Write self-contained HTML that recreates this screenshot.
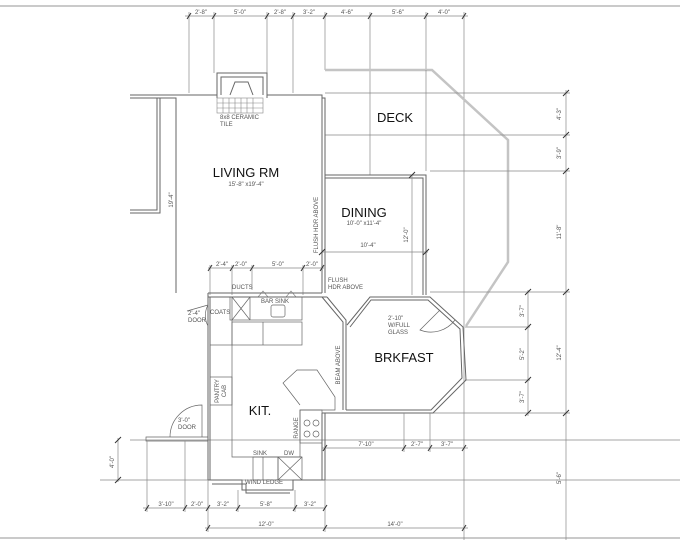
<!DOCTYPE html>
<html><head><meta charset="utf-8"><style>
html,body{margin:0;padding:0;background:#fff;}
svg{display:block;font-family:"Liberation Sans",sans-serif;}
.t{font-size:6px;fill:#555;}
.r{font-size:13px;fill:#111;}
.d{stroke:#888;stroke-width:0.7;fill:none;}
.w{stroke:#666;stroke-width:1;fill:none;}
.g{stroke:#c4c4c4;stroke-width:2.5;fill:none;}
.tk{stroke:#333;stroke-width:1;}
</style></head><body>
<svg width="680" height="544" viewBox="0 0 680 544">
<rect width="680" height="544" fill="#fff"/>
<line x1="0" y1="6" x2="680" y2="6" stroke="#aaa" stroke-width="1.2"/>
<line x1="0" y1="538" x2="680" y2="538" stroke="#aaa" stroke-width="1.2"/>

<g class="d">
<line x1="185" y1="16" x2="468" y2="16"/>
<line x1="189" y1="12" x2="189" y2="93"/><line x1="214" y1="12" x2="214" y2="73"/>
<line x1="267" y1="12" x2="267" y2="73"/><line x1="293" y1="12" x2="293" y2="93"/>
<line x1="325" y1="12" x2="325" y2="70"/><line x1="370" y1="12" x2="370" y2="175"/>
<line x1="426" y1="12" x2="426" y2="70"/><line x1="464" y1="12" x2="464" y2="540"/>
</g>
<g class="tk">
<line x1="187" y1="19" x2="191" y2="13"/><line x1="212" y1="19" x2="216" y2="13"/><line x1="265" y1="19" x2="269" y2="13"/><line x1="291" y1="19" x2="295" y2="13"/><line x1="323" y1="19" x2="327" y2="13"/><line x1="368" y1="19" x2="372" y2="13"/><line x1="424" y1="19" x2="428" y2="13"/><line x1="462" y1="19" x2="466" y2="13"/>
</g>
<g class="t" text-anchor="middle">
<text x="201" y="14">2'-8"</text><text x="240" y="14">5'-0"</text><text x="280" y="14">2'-8"</text><text x="309" y="14">3'-2"</text><text x="347" y="14">4'-6"</text><text x="398" y="14">5'-6"</text><text x="444" y="14">4'-0"</text>
</g>

<path class="g" d="M325 70 L432 70 L508 140 L508 262 L466 326"/>
<g class="d">
<line x1="325" y1="93" x2="570" y2="93"/><line x1="325" y1="135" x2="570" y2="135"/><line x1="430" y1="171" x2="570" y2="171"/>
<line x1="426" y1="70" x2="426" y2="171"/>
<line x1="430" y1="292" x2="570" y2="292"/><line x1="465" y1="327" x2="530" y2="327"/><line x1="465" y1="380" x2="530" y2="380"/>
<line x1="322" y1="413" x2="570" y2="413"/>
<line x1="130" y1="440" x2="680" y2="440"/><line x1="100" y1="480" x2="680" y2="480"/>
<line x1="566" y1="90" x2="566" y2="540"/><line x1="528" y1="290" x2="528" y2="416"/>
</g>
<g class="tk">
<line x1="563" y1="96" x2="569" y2="90"/><line x1="563" y1="138" x2="569" y2="132"/><line x1="563" y1="174" x2="569" y2="168"/><line x1="563" y1="295" x2="569" y2="289"/><line x1="563" y1="416" x2="569" y2="410"/>
<line x1="525" y1="295" x2="531" y2="289"/><line x1="525" y1="330" x2="531" y2="324"/><line x1="525" y1="383" x2="531" y2="377"/><line x1="525" y1="416" x2="531" y2="410"/>
</g>
<g class="t" text-anchor="middle">
<text transform="translate(561,114) rotate(-90)">4'-3"</text>
<text transform="translate(561,153) rotate(-90)">3'-9"</text>
<text transform="translate(561,232) rotate(-90)">11'-8"</text>
<text transform="translate(561,353) rotate(-90)">12'-4"</text>
<text transform="translate(561,478) rotate(-90)">5'-6"</text>
<text transform="translate(524,311) rotate(-90)">3'-7"</text>
<text transform="translate(524,354) rotate(-90)">5'-2"</text>
<text transform="translate(524,397) rotate(-90)">3'-7"</text>
</g>
<text class="r" x="395" y="122" text-anchor="middle">DECK</text>

<g class="w">
<path d="M130 95 L217 95 M267 95 L322 95 L322 293"/>
<path d="M130 98 L176 98 L176 293 M160 98 L160 213 L130 213 M157 98 L157 210 L130 210"/>
<path d="M217 98 L217 73 L267 73 L267 98 M221 95 L221 77 L263 77 L263 95"/>
<path d="M230 95 L235 82 L248 82 L253 95"/>
<path d="M322 98 L325 98 L325 293"/>
</g>
<g stroke="#888" stroke-width="0.6" fill="none">
<rect x="217" y="98" width="46" height="15"/>
<line x1="223" y1="98" x2="223" y2="113"/><line x1="229" y1="98" x2="229" y2="113"/><line x1="235" y1="98" x2="235" y2="113"/><line x1="241" y1="98" x2="241" y2="113"/><line x1="247" y1="98" x2="247" y2="113"/><line x1="253" y1="98" x2="253" y2="113"/>
<line x1="217" y1="103" x2="263" y2="103"/><line x1="217" y1="108" x2="263" y2="108"/>
</g>
<text class="t" x="220" y="119">8x8 CERAMIC</text><text class="t" x="220" y="126">TILE</text>
<text class="r" x="246" y="177" text-anchor="middle">LIVING RM</text>
<text class="t" x="246" y="186" text-anchor="middle">15'-8" x19'-4"</text>
<text class="t" transform="translate(173,200) rotate(-90)" text-anchor="middle">19'-4"</text>
<text class="t" transform="translate(318,225) rotate(-90)" text-anchor="middle">FLUSH HDR ABOVE</text>

<g class="w">
<path d="M325 175 L426 175 L426 295 M325 178 L423 178 L423 295"/>
</g>
<g class="d"><line x1="412" y1="175" x2="412" y2="295"/><line x1="322" y1="252" x2="428" y2="252"/></g>
<g class="tk"><line x1="409" y1="178" x2="415" y2="172"/><line x1="319" y1="255" x2="325" y2="249"/><line x1="423" y1="255" x2="429" y2="249"/></g>
<text class="r" x="364" y="217" text-anchor="middle">DINING</text>
<text class="t" x="364" y="225" text-anchor="middle">10'-0" x11'-4"</text>
<text class="t" x="368" y="247" text-anchor="middle">10'-4"</text>
<text class="t" transform="translate(408,235) rotate(-90)" text-anchor="middle">12'-0"</text>
<text class="t" x="328" y="282">FLUSH</text><text class="t" x="328" y="289">HDR ABOVE</text>

<g class="d"><line x1="208" y1="268" x2="324" y2="268"/>
<line x1="210" y1="265" x2="210" y2="295"/><line x1="232" y1="265" x2="232" y2="295"/><line x1="252" y1="265" x2="252" y2="290"/><line x1="303" y1="265" x2="303" y2="295"/></g>
<g class="tk"><line x1="208" y1="271" x2="212" y2="265"/><line x1="230" y1="271" x2="234" y2="265"/><line x1="250" y1="271" x2="254" y2="265"/><line x1="301" y1="271" x2="305" y2="265"/><line x1="320" y1="271" x2="324" y2="265"/></g>
<g class="t" text-anchor="middle"><text x="222" y="266">2'-4"</text><text x="241" y="266">2'-0"</text><text x="278" y="266">5'-0"</text><text x="312" y="266">2'-0"</text></g>
<text class="t" x="232" y="289">DUCTS</text>
<path class="d" d="M258 297 L263 291 L268 297 M286 297 L291 291 L296 297"/>

<g class="w">
<path d="M208 293 L322 293 M208 297 L327 297"/>
<path d="M208 293 L208 480 M210 297 L210 480"/>
<path d="M208 480 L242 480 L242 490 L293 490 L293 480 L325 480"/>
<path d="M212 484 L246 484 L246 493 L290 493"/>
<path d="M322 413 L322 480 M325 413 L325 480"/>
<path d="M327 297 L346 320 L346 410 M322 297 L343 322 L343 410"/>
<path d="M347 325 L370 297 L430 297 L463 327 L466 380 L433 413 L322 413"/>
<path d="M350 327 L371 300 L428 300 L460 329 L462 378 L431 410 L346 410"/>
</g>
<g stroke="#666" stroke-width="0.7" fill="none">
<rect x="210" y="297" width="22" height="48"/>
<rect x="230" y="297" width="72" height="23"/>
<line x1="232" y1="297" x2="250" y2="320"/><line x1="250" y1="297" x2="232" y2="320"/><line x1="250" y1="297" x2="250" y2="320"/>
<rect x="271" y="305" width="14" height="12" rx="2"/>
<rect x="232" y="322" width="70" height="23"/><line x1="263" y1="322" x2="263" y2="345"/>
<path d="M232 345 L232 457 L302 457"/>
<rect x="210" y="377" width="22" height="28"/>
<path d="M300 405 L283 383 L297 370 L317 370 L335 397 L335 410 L300 410 L300 457"/>
<rect x="300" y="410" width="22" height="33"/>
<circle cx="307" cy="423" r="3"/><circle cx="316" cy="423" r="3"/><circle cx="307" cy="434" r="3"/><circle cx="316" cy="434" r="3"/>
<rect x="253" y="457" width="25" height="23"/><line x1="263" y1="457" x2="263" y2="480"/>
<rect x="278" y="457" width="24" height="23"/><line x1="278" y1="457" x2="302" y2="480"/><line x1="302" y1="457" x2="278" y2="480"/>
<path d="M208 305 A22 22 0 0 0 208 326 M187 311 L208 305"/>
<path d="M146 437 L208 437 L208 441 L146 441 Z"/>
<path d="M170 437 A32 32 0 0 1 202 405 L202 437"/>
<path d="M440 310 L420 330 A30 30 0 0 0 455 320"/>
</g>
<text class="t" x="261" y="303">BAR SINK</text>
<text class="t" x="188" y="315">2'-4"</text><text class="t" x="188" y="322">DOOR</text><text class="t" x="210" y="314">COATS</text>
<text class="t" transform="translate(219,391) rotate(-90)" text-anchor="middle">PANTRY</text>
<text class="t" transform="translate(226,391) rotate(-90)" text-anchor="middle">CAB</text>
<text class="t" x="178" y="422">3'-0"</text><text class="t" x="178" y="429">DOOR</text>
<text class="r" x="260" y="415" text-anchor="middle">KIT.</text>
<text class="t" transform="translate(298,428) rotate(-90)" text-anchor="middle">RANGE</text>
<text class="t" x="253" y="455">SINK</text><text class="t" x="284" y="455">DW</text>
<text class="t" x="245" y="484">WIND LEDGE</text>
<text class="t" transform="translate(340,365) rotate(-90)" text-anchor="middle">BEAM ABOVE</text>
<text class="r" x="404" y="362" text-anchor="middle">BRKFAST</text>
<text class="t" x="388" y="320">2'-10"</text><text class="t" x="388" y="327">W/FULL</text><text class="t" x="388" y="334">GLASS</text>

<g class="d">
<line x1="143" y1="508" x2="325" y2="508"/><line x1="205" y1="528" x2="468" y2="528"/><line x1="322" y1="448" x2="468" y2="448"/>
<line x1="147" y1="441" x2="147" y2="512"/><line x1="185" y1="441" x2="185" y2="512"/>
<line x1="208" y1="480" x2="208" y2="532"/><line x1="238" y1="490" x2="238" y2="512"/><line x1="295" y1="490" x2="295" y2="512"/><line x1="325" y1="480" x2="325" y2="532"/>
<line x1="404" y1="413" x2="404" y2="452"/><line x1="430" y1="413" x2="430" y2="452"/>
<line x1="118" y1="438" x2="118" y2="482"/>
</g>
<g class="tk">
<line x1="145" y1="511" x2="149" y2="505"/><line x1="183" y1="511" x2="187" y2="505"/><line x1="206" y1="511" x2="210" y2="505"/><line x1="236" y1="511" x2="240" y2="505"/><line x1="293" y1="511" x2="297" y2="505"/><line x1="323" y1="511" x2="327" y2="505"/>
<line x1="206" y1="531" x2="210" y2="525"/><line x1="323" y1="531" x2="327" y2="525"/><line x1="462" y1="531" x2="466" y2="525"/>
<line x1="323" y1="451" x2="327" y2="445"/><line x1="402" y1="451" x2="406" y2="445"/><line x1="428" y1="451" x2="432" y2="445"/><line x1="462" y1="451" x2="466" y2="445"/>
<line x1="115" y1="443" x2="121" y2="437"/><line x1="115" y1="483" x2="121" y2="477"/>
</g>
<g class="t" text-anchor="middle">
<text x="166" y="506">3'-10"</text><text x="197" y="506">2'-0"</text><text x="223" y="506">3'-2"</text><text x="266" y="506">5'-8"</text><text x="310" y="506">3'-2"</text>
<text x="266" y="526">12'-0"</text><text x="395" y="526">14'-0"</text>
<text x="366" y="446">7'-10"</text><text x="417" y="446">2'-7"</text><text x="447" y="446">3'-7"</text>
<text transform="translate(114,462) rotate(-90)">4'-0"</text>
</g>
</svg>
</body></html>
